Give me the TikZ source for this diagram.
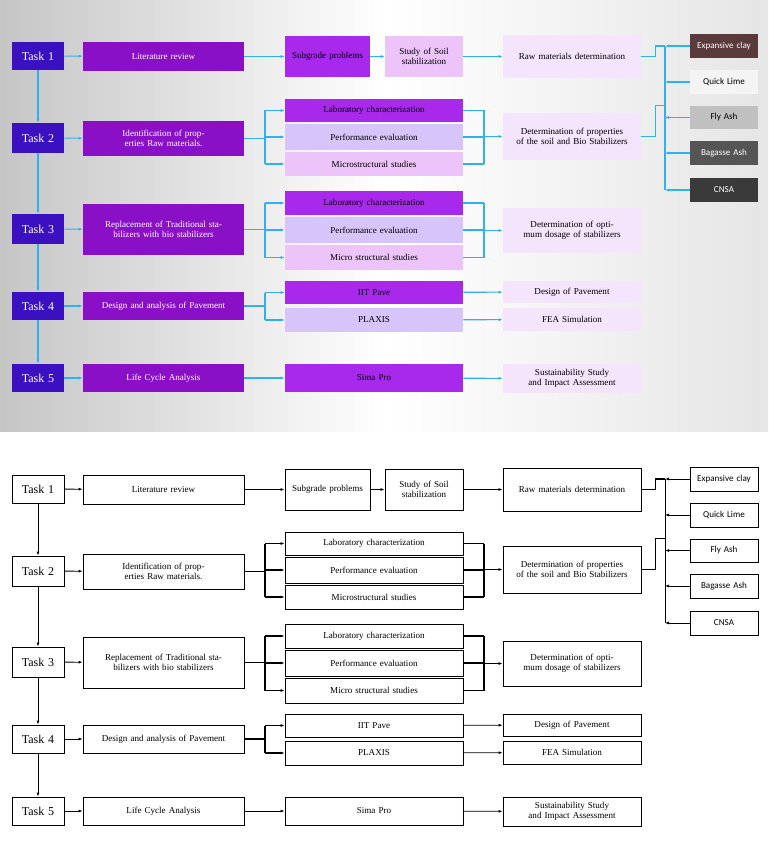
\documentclass[tikz,border=0pt]{standalone}
\usepackage{fontspec}
\setmainfont{Liberation Serif}
\newfontfamily\carl{Carlito}
\usetikzlibrary{arrows.meta}
\definecolor{lk}{HTML}{30B0F0}
\newcommand{\bx}[8]{\pgfmathsetlengthmacro\kw{(#5-#3)*0.75pt}\pgfmathsetlengthmacro\kh{(#6-#4)*0.75pt}\pgfmathsetlengthmacro\ktw{(#5-#3)*0.75pt-6pt}%
\node[#2,minimum width=\kw,minimum height=\kh,text width=\ktw] (#1) at ({(#3+#5)/2},{(#4+#6)/2}) {#8#7};}
\newcommand{\dgm}[1]{%
\coordinate (#1fx) at (265,0);
\coordinate (#1mx) at (484,0);
\coordinate (#1bx) at (665,0);
\bx{#1t1}{ktsk}{12}{42}{64}{70}{Task 1}{}
\bx{#1t2}{ktsk}{12}{123}{64}{153}{Task 2}{}
\bx{#1t3}{ktsk}{12}{214}{64}{244}{Task 3}{}
\bx{#1t4}{ktsk}{12}{292}{64}{320}{Task 4}{}
\bx{#1t5}{ktsk}{12}{364}{64}{392}{Task 5}{}
\bx{#1a1}{kca}{83}{42}{244}{71}{Literature review}{}
\bx{#1a2}{kca}{83}{121}{244}{156}{Identification of properties Raw materials.}{}
\bx{#1a3}{kca}{83}{204}{244}{255}{Replacement of Traditional stabilizers with bio stabilizers}{}
\bx{#1a4}{kca}{83}{292}{244}{320}{Design and analysis of Pavement}{}
\bx{#1a5}{kca}{83}{364}{244}{392}{Life Cycle Analysis}{}
\bx{#1sg}{kcd}{285}{36}{370}{77}{Subgrade problems}{}
\bx{#1ss}{kcl}{385}{36}{463}{77}{Study of Soil stabilization}{}
\bx{#1l2}{kcd}{285}{99}{463}{122}{Laboratory characterization}{}
\bx{#1p2}{kcm}{285}{124}{463}{150}{Performance evaluation}{}
\bx{#1m2}{kcl}{285}{152}{463}{176}{Microstructural studies}{}
\bx{#1l3}{kcd}{285}{191}{463}{215}{Laboratory characterization}{}
\bx{#1p3}{kcm}{285}{217}{463}{243}{Performance evaluation}{}
\bx{#1m3}{kcl}{285}{245}{463}{270}{Micro structural studies}{}
\bx{#1ii}{kcd}{285}{281}{463}{304}{IIT Pave}{}
\bx{#1pl}{kcm}{285}{308}{463}{332}{PLAXIS}{}
\bx{#1sp}{kcd}{285}{364}{463}{392}{Sima Pro}{}
\bx{#1r1}{kcr}{503}{35}{641}{78}{Raw materials determination}{}
\bx{#1r2}{kcr}{503}{113}{641}{160}{Determination of properties of the soil and Bio Stabilizers}{}
\bx{#1r3}{kcr}{503}{208}{641}{253}{Determination of optimum dosage of stabilizers}{}
\bx{#1r4}{kcr}{503}{281}{641}{303}{Design of Pavement}{}
\bx{#1r5}{kcr}{503}{308}{641}{331}{FEA Simulation}{}
\bx{#1r6}{kcr}{503}{364}{641}{393}{Sustainability Study and Impact Assessment}{}
\bx{#1e1}{km1}{690}{34}{758}{58}{Expansive clay}{\carl}
\bx{#1e2}{km2}{690}{70}{758}{94}{Quick Lime}{\carl}
\bx{#1e3}{km3}{690}{106}{758}{129}{Fly Ash}{\carl}
\bx{#1e4}{km4}{690}{141}{758}{165}{Bagasse Ash}{\carl}
\bx{#1e5}{km5}{690}{178}{758}{202}{CNSA}{\carl}
\foreach \ki/\kj in {1/2,2/3,3/4,4/5}{\draw[kln,-{Latex[length=3pt]}] (#1t\ki) -- (#1t\kj);}
\foreach \ki in {1,...,5}{\draw[kln,-{Latex[length=3pt]}] (#1t\ki) -- (#1a\ki);}
\draw[khv,-{Latex[length=3pt]}] (#1a1) -- (#1sg);
\draw[khv,-{Latex[length=3pt]}] (#1sg) -- (#1ss);
\draw[khv,-{Latex[length=3pt]}] (#1ss) -- (#1r1);
\draw[khv] (#1a2.east) -- (#1fx|-#1a2.east);
\draw[khv] (#1a3.east) -- (#1fx|-#1a3.east);
\draw[khv] (#1a4.east) -- (#1fx|-#1a4.east);
\foreach \kk/\ka/\kb/\kc in {2/l2/p2/m2,3/l3/p3/m3}{
 \draw[khv] (#1fx|-#1\ka.west) -- (#1fx|-#1\kc.west);
 \foreach \kn in {\ka,\kb,\kc}{\draw[khv,-{Latex[length=3pt]}] (#1fx|-#1\kn.west) -- (#1\kn.west);
  \draw[khv] (#1\kn.east) -- (#1mx|-#1\kn.east);}
 \draw[khv] (#1mx|-#1\ka.east) -- (#1mx|-#1\kc.east);
 \draw[khv,-{Latex[length=3pt]}] (#1mx|-#1r\kk.west) -- (#1r\kk.west);}
\draw[khv] (#1fx|-#1ii.west) -- (#1fx|-#1pl.west);
\draw[khv,-{Latex[length=3pt]}] (#1fx|-#1ii.west) -- (#1ii.west);
\draw[khv,-{Latex[length=3pt]}] (#1fx|-#1pl.west) -- (#1pl.west);
\draw[kln,-{Latex[length=3pt]}] (#1ii) -- (#1r4);
\draw[kln,-{Latex[length=3pt]}] (#1pl) -- (#1r5);
\draw[kln,-{Latex[length=3pt]}] (#1a5) -- (#1sp);
\draw[kln,-{Latex[length=3pt]}] (#1sp) -- (#1r6);
\draw[khv] (#1r1.east) -- ++(14,0) |- (#1bx|-#1e1.west);
\draw[kln] (#1r2.east) -- ++(14,0) |- (#1bx|-#1e3.north west);
\draw[kln] (#1bx|-#1e1.west) -- (#1bx|-#1e5.west);
\foreach \kn in {1,...,5}{\draw[kln,-{Latex[length=3pt]}] (#1e\kn.west) -- (#1bx|-#1e\kn.west);}
}
\begin{document}
\begin{tikzpicture}[x=0.75pt,y=-0.75pt,font=\fontsize{6.8}{7.6}\selectfont]
\useasboundingbox (0,0) rectangle (768,866);
\shade[left color=gray!45,right color=gray!20,middle color=white] (0,0) rectangle (768,432);
\fill[white] (0,432) rectangle (768,866);
\begin{scope}[kbs/.style={draw=none,inner sep=0pt,align=center},
 ktsk/.style={kbs,fill={rgb,255:red,58;green,16;blue,192},text=white,font=\fontsize{9}{10}\selectfont},
 kca/.style={kbs,fill={rgb,255:red,138;green,16;blue,200},text=white},
 kcd/.style={kbs,fill={rgb,255:red,168;green,40;blue,236},text=black},
 kcm/.style={kbs,fill={rgb,255:red,214;green,196;blue,250}},
 kcl/.style={kbs,fill={rgb,255:red,236;green,196;blue,250}},
 kcr/.style={kbs,fill={rgb,255:red,244;green,228;blue,252}},
 km1/.style={kbs,fill={rgb,255:red,90;green,58;blue,58},text=white},
 km2/.style={kbs,fill={rgb,255:red,244;green,244;blue,244}},
 km3/.style={kbs,fill={rgb,255:red,192;green,192;blue,192}},
 km4/.style={kbs,fill={rgb,255:red,85;green,85;blue,85},text=white},
 km5/.style={kbs,fill={rgb,255:red,58;green,58;blue,58},text=white},
 kln/.style={draw=lk,line width=0.8pt},khv/.style={kln}]
\dgm{T}
\end{scope}
\begin{scope}[shift={(0,433)},kbs/.style={draw=black,fill=white,line width=0.6pt,inner sep=0pt,align=center},
 ktsk/.style={kbs,font=\fontsize{9}{10}\selectfont},kca/.style={kbs},kcd/.style={kbs},kcm/.style={kbs},kcl/.style={kbs},kcr/.style={kbs},
 km1/.style={kbs},km2/.style={kbs},km3/.style={kbs},km4/.style={kbs},km5/.style={kbs},
 kln/.style={draw=black,line width=0.6pt},khv/.style={draw=black,line width=1.3pt}]
\dgm{B}
\end{scope}
\end{tikzpicture}
\end{document}
